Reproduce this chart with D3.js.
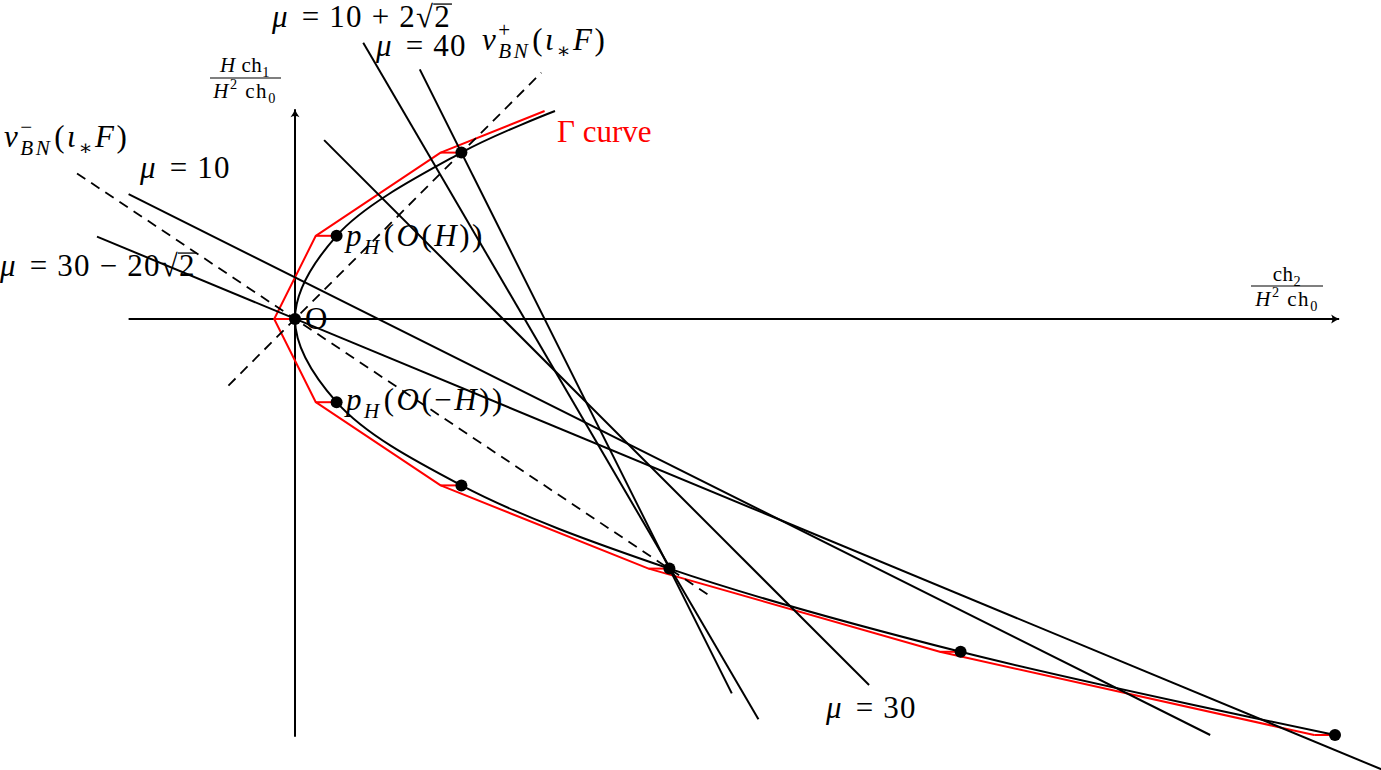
<!DOCTYPE html>
<meta charset="utf-8">
<style>
  body { margin: 0; background: #fff; }
  svg { display: block; }
  text { font-family: "Liberation Serif", "DejaVu Serif", serif; white-space: pre; }
</style>
<script src="https://cdn.jsdelivr.net/npm/d3@7"></script>
<svg width="1381" height="770"></svg>
<script>
// points p_H(O(nH)) on the curve
var pointX = [2, 0.5, 0, 0.5, 2, 4.5, 8, 12.5];
var pointY = [2, 1, 0, -1, -2, -3, -4, -5];

// black smooth curve (top end + the points)
var curveX = [3.125, 2, 0.5, 0, 0.5, 2, 4.5, 8, 12.5];
var curveY = [2.5, 2, 1, 0, -1, -2, -3, -4, -5];

// red Gamma polygon
var redX = [3.0, 1.75, 0.25, -0.25, 0.25, 1.75, 4.25, 7.75, 12.25];
var redY = [2.5, 2, 1, 0, -1, -2, -3, -4, -5];

// mu walls
var muNames = ["10+2√2", "40", "30", "10", "30-20√2"];
var muStart = [[0.82, 3.32], [1.5, 3.0], [0.35, 2.15], [-2.0, 1.5], [-2.38, 0.99]];
var muEnd = [[5.57, -4.81], [5.25, -4.5], [6.9, -4.4], [11.0, -5.0], [13.1, -5.43]];

// dashed nu_BN rays
var nuNames = ["+", "-"];
var nuStart = [[-0.8, -0.8], [-2.62, 1.75]];
var nuEnd = [[2.96, 2.96], [4.96, -3.31]];

// axes extent
var axisX = [-2.0, 12.55];
var axisY = [-5.02, 2.52];

var svg = d3.select("svg");
var unit = 83.2, ox = 295, oy = 319;
var x = d3.scaleLinear().domain([0, 1]).range([ox, ox + unit]);
var y = d3.scaleLinear().domain([0, 1]).range([oy, oy - unit]);

var defs = svg.append("defs");
defs.append("marker")
    .attr("id", "arr")
    .attr("viewBox", "-10 -6 12 12")
    .attr("markerUnits", "userSpaceOnUse")
    .attr("markerWidth", 12).attr("markerHeight", 12)
    .attr("refX", 0).attr("refY", 0)
    .attr("orient", "auto")
    .append("path")
    .attr("d", "M-8,-4.5 Q-3,-1 0,0 Q-3,1 -8,4.5 Q-5.5,0 -8,-4.5 Z")
    .attr("fill", "#000");

var g = svg.append("g");

// axes
g.append("line")
    .attr("x1", x(axisX[0])).attr("y1", y(0))
    .attr("x2", x(axisX[1])).attr("y2", y(0))
    .attr("stroke", "#000").attr("stroke-width", 2)
    .attr("marker-end", "url(#arr)");
g.append("line")
    .attr("x1", x(0)).attr("y1", y(axisY[0]))
    .attr("x2", x(0)).attr("y2", y(axisY[1]))
    .attr("stroke", "#000").attr("stroke-width", 2)
    .attr("marker-end", "url(#arr)");

// red polygon + spurs to the points
var redPts = redX.map(function(v, i) { return [v, redY[i]]; });
var line = d3.line().x(function(d) { return x(d[0]); }).y(function(d) { return y(d[1]); });
g.append("path")
    .attr("d", line(redPts))
    .attr("fill", "none").attr("stroke", "#ff0000").attr("stroke-width", 2)
    .attr("stroke-linejoin", "round");
pointX.forEach(function(px, i) {
    g.append("line")
        .attr("x1", x(redX[i + 1])).attr("y1", y(redY[i + 1]))
        .attr("x2", x(px)).attr("y2", y(pointY[i]))
        .attr("stroke", "#ff0000").attr("stroke-width", 2);
});

// black smooth curve
var curvePts = curveX.map(function(v, i) { return [v, curveY[i]]; });
g.append("path")
    .attr("d", d3.line().x(function(d) { return x(d[0]); }).y(function(d) { return y(d[1]); })
        .curve(d3.curveCatmullRom.alpha(0.5))(curvePts))
    .attr("fill", "none").attr("stroke", "#000").attr("stroke-width", 2);

// mu lines
muNames.forEach(function(m, i) {
    g.append("line")
        .attr("class", "mu")
        .attr("x1", x(muStart[i][0])).attr("y1", y(muStart[i][1]))
        .attr("x2", x(muEnd[i][0])).attr("y2", y(muEnd[i][1]))
        .attr("stroke", "#000").attr("stroke-width", 2);
});

// nu dashed lines
nuNames.forEach(function(m, i) {
    g.append("line")
        .attr("x1", x(nuStart[i][0])).attr("y1", y(nuStart[i][1]))
        .attr("x2", x(nuEnd[i][0])).attr("y2", y(nuEnd[i][1]))
        .attr("stroke", "#000").attr("stroke-width", 1.8)
        .attr("stroke-dasharray", "10,7");
});

// points
g.selectAll("circle.pt")
    .data(pointX)
    .enter().append("circle")
    .attr("class", "pt")
    .attr("cx", function(d) { return x(d); })
    .attr("cy", function(d, i) { return y(pointY[i]); })
    .attr("r", 6)
    .attr("fill", "#000");

// math-ish label helper: pieces placed one after another
function mathText(px, py, size, pieces, opts) {
    opts = opts || {};
    var grp = svg.append("g");
    var cx = 0, prevX = 0;
    pieces.forEach(function(p) {
        var s = p.s ? size * 0.68 : size;
        var dy = p.s === "sub" ? size * 0.26 : (p.s === "sup" ? -size * 0.42 : 0);
        var startX = p.stack ? prevX : cx;
        var t = grp.append("text")
            .attr("x", startX).attr("y", dy)
            .attr("font-size", s)
            .attr("font-style", p.it ? "italic" : "normal")
            .attr("letter-spacing", opts.ls || 0)
            .attr("fill", opts.color || "#000")
            .text(p.t);
        var w = t.node().getComputedTextLength();
        if (p.ov) {
            grp.append("line")
                .attr("x1", startX - 1).attr("x2", startX + w + 1)
                .attr("y1", -size * 0.74).attr("y2", -size * 0.74)
                .attr("stroke", "#000").attr("stroke-width", 1.3);
        }
        prevX = startX;
        cx = Math.max(cx, startX + w + (p.gap || 0));
    });
    var shift = opts.center ? -cx / 2 : 0;
    grp.attr("transform", "translate(" + (px + shift) + "," + py + ")");
    return cx;
}

var F = 31;
var R = function(t) { return {t: t}; };
var I = function(t) { return {t: t, it: true}; };
var MU = {t: "μ", it: true, gap: 4};
var muOpt = {ls: 1.2};

mathText(272, 27, F, [MU, R(" = 10 + 2√"), {t: "2", ov: true}], muOpt);
mathText(376, 56, F, [MU, R(" = 40")], muOpt);
mathText(482, 50, F, [I("ν"), {t: "+", s: "sup"}, {t: "BN", it: true, s: "sub", stack: true, gap: 2},
    R("("), I("ι"), {t: "∗", s: "sub"}, I("F"), R(")")], {ls: 2.5});
mathText(4, 147, F, [I("ν"), {t: "−", s: "sup"}, {t: "BN", it: true, s: "sub", stack: true, gap: 2},
    R("("), I("ι"), {t: "∗", s: "sub"}, I("F"), R(")")], {ls: 2.5});
mathText(140, 178, F, [MU, R(" = 10")], muOpt);
mathText(0, 276, F, [MU, R(" = 30 − 20√"), {t: "2", ov: true}], muOpt);
mathText(826, 718, F, [MU, R(" = 30")], muOpt);
mathText(557, 142, F, [R("Γ curve")], {color: "#ff0000"});
mathText(346, 246, F, [I("p"), {t: "H", it: true, s: "sub", gap: 2}, R("("), I("O"), R("("), I("H"), R("))")], {ls: 2.5});
mathText(346, 410, F, [I("p"), {t: "H", it: true, s: "sub", gap: 2}, R("("), I("O"), R("(−"), I("H"), R("))")], {ls: 2.5});
mathText(305, 329, F, [R("O")]);

// axis label fractions
var FS = 21;
mathText(245, 72, FS, [I("H"), R(" ch"), {t: "1", s: "sub"}], {center: true, ls: 0.5});
mathText(245, 98, FS, [I("H"), {t: "2", s: "sup"}, R(" ch"), {t: "0", s: "sub"}], {center: true, ls: 1.5});
svg.append("line").attr("x1", 210).attr("x2", 281).attr("y1", 78).attr("y2", 78)
    .attr("stroke", "#000").attr("stroke-width", 1.2);
mathText(1287, 281, FS, [R("ch"), {t: "2", s: "sub"}], {center: true, ls: 0.5});
mathText(1287, 306, FS, [I("H"), {t: "2", s: "sup"}, R(" ch"), {t: "0", s: "sub"}], {center: true, ls: 1.5});
svg.append("line").attr("x1", 1251).attr("x2", 1323).attr("y1", 286).attr("y2", 286)
    .attr("stroke", "#000").attr("stroke-width", 1.2);
</script>
